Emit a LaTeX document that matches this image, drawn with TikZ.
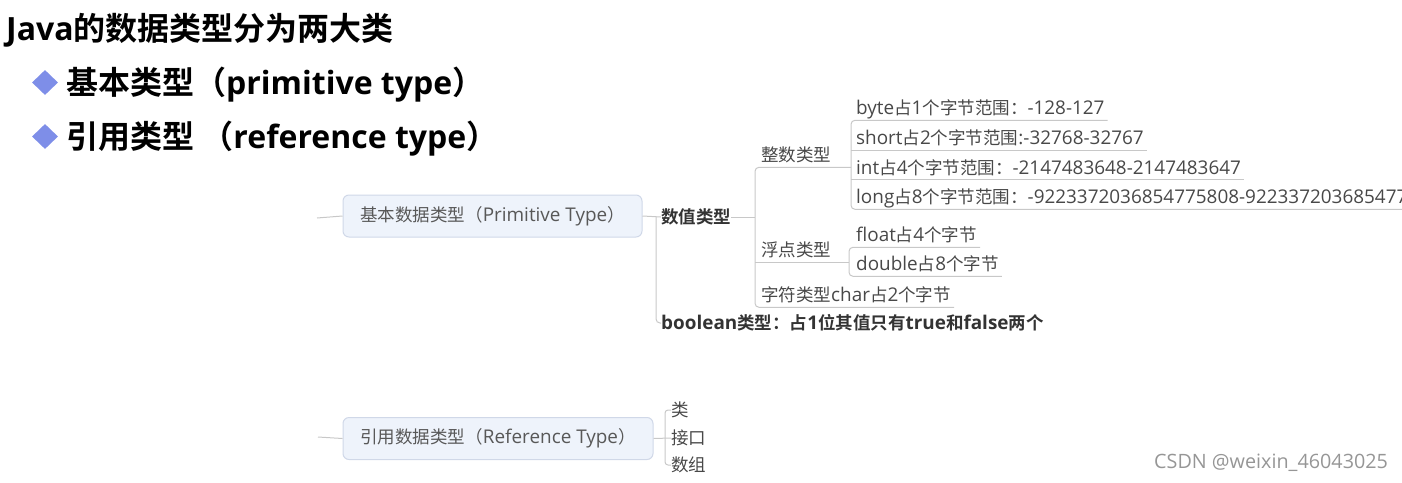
\documentclass[tikz,border=0pt]{standalone}
\usepackage{fontspec}
\setmainfont{Open Sans}[Scale=1.08]
\newfontfamily\headfont{Open Sans}
\newfontfamily\cjkfont{Noto Sans CJK SC}[BoldFont={Noto Sans CJK SC Bold}]
% switch to the CJK face for Chinese runs
\newcommand\latinface{\rmfamily}
\XeTeXinterchartokenstate=1
\newXeTeXintercharclass\cjkclass
\count255="3000
\loop \XeTeXcharclass\count255=\cjkclass \ifnum\count255<"303F \advance\count255 by 1 \repeat
\count255="4E00
\loop \XeTeXcharclass\count255=\cjkclass \ifnum\count255<"9FFF \advance\count255 by 1 \repeat
\count255="FF00
\loop \XeTeXcharclass\count255=\cjkclass \ifnum\count255<"FFEF \advance\count255 by 1 \repeat
\XeTeXinterchartoks 0 \cjkclass = {\cjkfont}
\XeTeXinterchartoks 4095 \cjkclass = {\cjkfont}
\XeTeXinterchartoks \cjkclass 0 = {\latinface}
\usetikzlibrary{shapes.geometric, calc}
\definecolor{bulletblue}{RGB}{126,142,232}
\definecolor{boxfill}{RGB}{238,243,251}
\definecolor{boxline}{RGB}{208,216,232}
\definecolor{boxtext}{RGB}{88,88,88}
\definecolor{leaftext}{RGB}{72,72,72}
\definecolor{linkgray}{RGB}{200,200,200}
\definecolor{marktext}{RGB}{150,150,150}

\begin{document}
\begin{tikzpicture}[
    x=1pt, y=-1pt,
    heading/.style={anchor=west, inner sep=0pt, font=\fontsize{32}{35}\selectfont\headfont\bfseries\def\latinface{\headfont}, text height=28.2pt, text depth=3.8pt},
    bullet/.style={diamond, fill=bulletblue, inner sep=0pt, minimum width=26pt, minimum height=25pt},
    topic/.style={rounded corners=6pt, draw=boxline, fill=boxfill, line width=1pt, minimum height=42pt, font=\fontsize{17.5}{20}\selectfont, text=boxtext, inner sep=0pt},
    leaf/.style={anchor=west, inner sep=0pt, font=\fontsize{17.5}{20}\selectfont, text=leaftext, text height=18.7pt, text depth=5.5pt},
    strong/.style={leaf, font=\fontsize{17.5}{20}\selectfont\bfseries, text=black!80},
    link/.style={draw=linkgray, line width=1pt}
]
\useasboundingbox (0,0) rectangle (1402,482);
% Heading and the two bullets
\node[heading] (title) at (6,28.5) {Java的数据类型分为两大类};
\node[bullet] (b1) at (45,82.5) {};
\node[heading] (primh) at (66,82.5) {基本类型（primitive type）};
\node[bullet] (b2) at (45,136.5) {};
\node[heading] (refh) at (66,136.5) {引用类型 （reference type）};

% Primitive type map
\node[topic, minimum width=299pt] (prim) at (492.5,216) {基本数据类型（Primitive Type）};
\coordinate (primin) at (317,218);
\node[strong] (num) at (661,217) {数值类型};
\node[strong] (bool) at (661,323) {boolean类型：占1位其值只有true和false两个};
\node[leaf] (intt) at (761,155) {整数类型};
\node[leaf] (byte) at (856,108) {byte占1个字节范围：-128-127};
\node[leaf] (short) at (856,138) {short占2个字节范围:-32768-32767};
\node[leaf] (int) at (856,167.5) {int占4个字节范围：-2147483648-2147483647};
\node[leaf] (long) at (856,197) {long占8个字节范围：-9223372036854775808-922337203685477};
\node[leaf] (flt) at (761,250) {浮点类型};
\node[leaf] (float) at (856,235) {float占4个字节};
\node[leaf] (double) at (856,264) {double占8个字节};
\node[leaf] (chr) at (761,295) {字符类型char占2个字节};

\draw[link] (primin) -- (prim.west);
\draw[link] (prim.east) -- (num.west);
\draw[link, rounded corners=4pt] ($(num.west)+(-5,0)$) -- ($(bool.west)+(-5,0)$) -- (bool.west);
% numeric branch
\draw[link] (num.east) -- ($(num.east -| intt.west)+(-6,0)$);
\draw[link, rounded corners=4pt] ($(intt.south -| byte.west)+(-5,0)$) -- ($(intt.south west)+(-6,0)$)
    -- ($(chr.south west)+(-6,0)$) -- ($(chr.south east)+(3,0)$);
\draw[link] ($(flt.south west)+(-6,0)$) -- ($(flt.south -| float.west)+(-7,0)$);
% integer children
\draw[link, rounded corners=4pt] ($(byte.south east)+(3,0)$) -- ($(byte.south west)+(-5,0)$)
    -- ($(long.south west)+(-5,0)$) -- ($(long.south east)+(20,0)$);
\foreach \n in {short,int}
    \draw[link] ($(\n.south west)+(-5,0)$) -- ($(\n.south east)+(3,0)$);
% float children
\draw[link, rounded corners=4pt] ($(float.south east)+(3,0)$) -- ($(float.south west)+(-7,0)$)
    -- ($(double.south west)+(-7,0)$) -- ($(double.south east)+(3,0)$);

% Reference type map
\node[topic, minimum width=310pt] (ref) at (498,438.5) {引用数据类型（Reference Type）};
\coordinate (refin) at (318,437);
\node[leaf] (cls) at (671,410) {类};
\node[leaf] (iface) at (671,438) {接口};
\node[leaf] (arr) at (671,465) {数组};

\draw[link] (refin) -- (ref.west);
\draw[link] (ref.east) -- (iface.west);
\draw[link, rounded corners=3pt] (cls.west) -- ($(cls.west)+(-6,0)$) -- ($(arr.west)+(-6,0)$) -- (arr.west);

% watermark
\node[anchor=west, inner sep=0pt, font=\fontsize{18.3}{21}\selectfont, text=marktext] (mark) at (1154,463) {CSDN @weixin\_46043025};
\end{tikzpicture}
\end{document}
